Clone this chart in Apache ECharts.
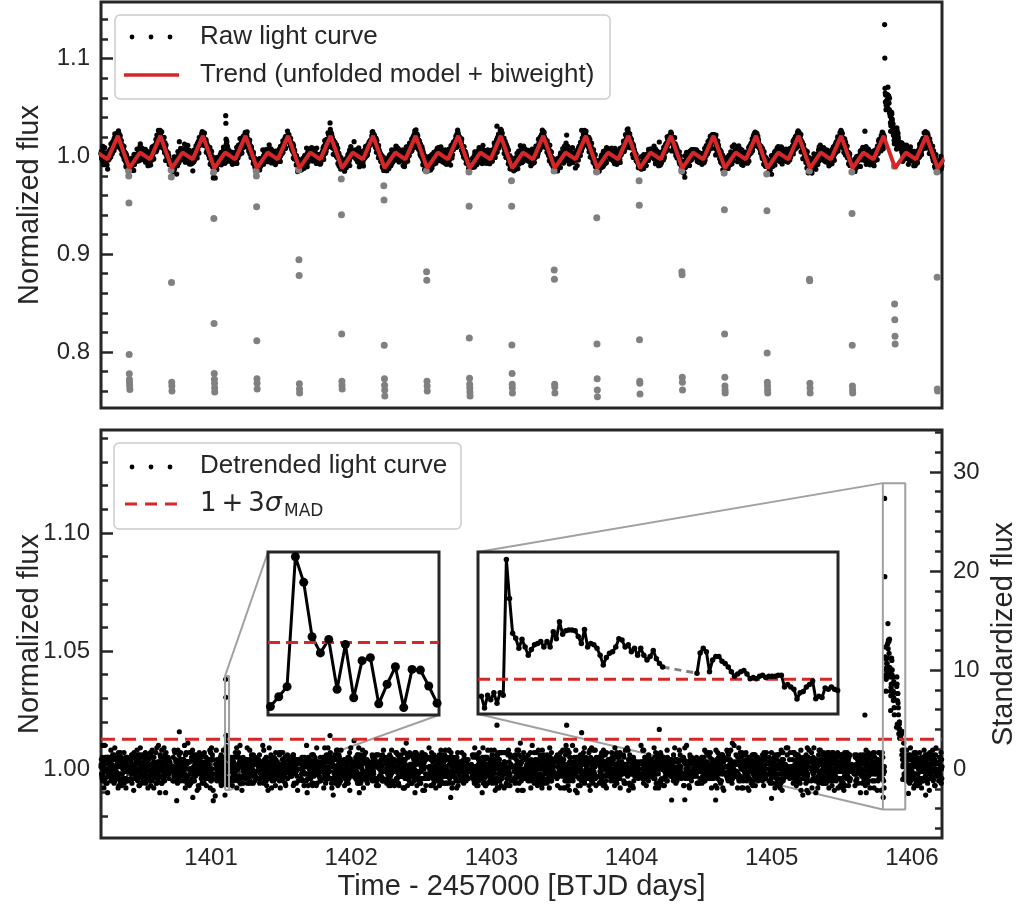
<!DOCTYPE html>
<html>
<head>
<meta charset="utf-8">
<title>Light curve detrending</title>
<script src="https://cdn.jsdelivr.net/npm/echarts@6/dist/echarts.min.js"></script>
<style>
  html, body { margin: 0; padding: 0; background: #fff; }
  #chart { width: 1017px; height: 913px; }
</style>
</head>
<body>
<div id="chart"></div>
<script>
// ---- data ----
// time axis, BTJD days, TESS 2-min cadence
const tStart = 1400.215;
const tEnd = 1406.215;
const cadence = 2 / 1440;

// eclipse ephemeris (grey columns)
const eclEpoch = 1400.417;
const eclPeriod = 0.30354;
const eclHalfWidth = 0.0065;

// one cycle of the unfolded trend model
const trendPhase = [0, 0.25, 0.49, 0.73, 1];
const trendFlux = [0.988, 1.004, 0.997, 1.021, 0.988];

// detrended scatter about 1, in units of 1e-3 (two lists summed)
const residA = [2, -1, 4, 0, -3, 1, -5, 3, -2, 0, 5, -1, -4, 2, 1, -3, 0, 3, -2, 6,
  -1, 1, -4, 2, 0, -2, 3, -6, 1, 4, -1, -3, 2, 0, -5, 3, 1, -2, 4, -1,
  0, 2, -3, 5, -2, 1, -4, 0, 3, -1, -2, 4, 1, -3, 2, 0, -1, 3, -5, 1, 2];
const residB = [-1, 3, 0, -2, 4, -4, 1, 2, -3, 0, 5, -2, 1, -1, 3, -5, 2, 0, -3, 4,
  1, -2, 0, 3, -1, -4, 2, 6, -2, 0, 1, -3, 3, -1, -5, 2, 4, 0, -2, 1,
  -3, 3, 0, -1, 5, -4, 2, -2, 1, 0, -3, 4, -1, 2, -6, 1, 3, -2, 0, -1,
  4, -3, 2, 1, -4, 0, 3];

// masked in-eclipse points (grey), one list per eclipse
const eclGrey = [
  [0.985, 0.980, 0.9523, 0.7974, 0.7776, 0.7718, 0.7684, 0.765, 0.7615],
  [0.986, 0.979, 0.871, 0.769, 0.765, 0.760],
  [0.984, 0.9366, 0.829, 0.778, 0.772, 0.768, 0.763, 0.759],
  [0.985, 0.980, 0.9485, 0.8115, 0.7725, 0.768, 0.762],
  [0.986, 0.8942, 0.8782, 0.7674, 0.762, 0.758],
  [0.977, 0.9403, 0.8183, 0.770, 0.766, 0.762],
  [0.970, 0.9554, 0.8067, 0.7725, 0.766, 0.761, 0.755],
  [0.985, 0.8819, 0.8733, 0.770, 0.765, 0.760],
  [0.984, 0.9489, 0.8142, 0.773, 0.767, 0.763, 0.759, 0.755],
  [0.975, 0.9489, 0.807, 0.778, 0.767, 0.763, 0.758],
  [0.985, 0.8839, 0.8744, 0.767, 0.764, 0.758],
  [0.984, 0.9373, 0.808, 0.7725, 0.761, 0.754],
  [0.975, 0.950, 0.8125, 0.770, 0.768, 0.757],
  [0.985, 0.882, 0.879, 0.774, 0.769, 0.761],
  [0.983, 0.9455, 0.8183, 0.774, 0.765, 0.761, 0.758],
  [0.982, 0.9445, 0.7988, 0.769, 0.765, 0.761, 0.758],
  [0.985, 0.8744, 0.8727, 0.768, 0.763, 0.758],
  [0.984, 0.9417, 0.8067, 0.765, 0.761, 0.758],
  [0.990, 0.849, 0.833, 0.816, 0.808],
  [0.984, 0.8764, 0.762, 0.760]
];
const greyOffset = [-0.0055, -0.004, -0.0025, -0.001, 0, 0.0008, 0.0016, 0.0025, 0.004];

// detrended outliers [time, flux]
const outliers = [
  [1400.755, 0.9866], [1400.774, 1.0158], [1400.870, 0.988], [1401.016, 0.9866],
  [1401.030, 0.9886], [1401.849, 1.0142], [1403.040, 1.0186], [1403.537, 1.0186],
  [1403.644, 1.0154], [1404.198, 1.0168], [1404.286, 0.9869], [1404.380, 0.9870],
  [1404.600, 0.9869], [1404.999, 0.9876], [1405.665, 1.0229], [1405.975, 0.9897]
];

// small event near 1401.1 (left inset), detrended flux per cadence
const event1Start = 1401.1004;
const event1Flux = [0.9936, 0.9965, 0.9995, 1.0380, 1.0304, 1.0143, 1.0095, 1.0135,
  0.9987, 1.0120, 0.9962, 1.0072, 1.0081, 0.9944, 1.0002, 1.0054, 0.9933, 1.0046,
  1.0044, 0.9997, 0.9946];

// flare near 1405.8 (right inset), detrended flux per cadence, null = masked eclipse
const flareStart = 1405.7945;
const flareFlux = [
  0.998, 0.988, 0.999, 0.995, 1.001, 0.992, 1.001, 0.999,
  1.1146, 1.0815, 1.0517, 1.0475, 1.039, 1.0466, 1.040, 1.033,
  1.038, 1.042, 1.043, 1.0447, 1.040, 1.0447, 1.040, 1.053,
  1.047, 1.0616, 1.051, 1.054, 1.0546, 1.0546, 1.054, 1.049,
  1.043, 1.055, 1.040, 1.043, 1.042, 1.039, 1.033, 1.0248,
  1.031, 1.0347, 1.036, 1.040, 1.047, 1.046, 1.040, 1.042,
  1.036, 1.039, 1.033, 1.039, 1.033, 1.029, 1.032, 1.037,
  1.030, 1.026, 1.023,
  null, null, null, null, null, null, null, null, null, null,
  1.0177, 1.035, 1.039, 1.036, 1.019, 1.029, 1.032, 1.032,
  1.028, 1.026, 1.023, 1.019, 1.015, 1.017, 1.019, 1.020,
  1.017, 1.013, 1.014, 1.013, 1.015, 1.016, 1.014, 1.015,
  1.015, 1.015, 1.016, 1.016, 1.006, 1.008, 1.006, 1.004,
  0.9956, 1.001, 1.002, 1.006, 1.008, 1.011, 0.996, 0.998,
  0.997, 1.005, 1.004, 1.006, 1.004, 1.003
];

const sigmaMAD = 0.004195;
const threshold = 1 + 3 * sigmaMAD;

// axes
const topY = [0.7426, 1.158];
const botY = [0.9708, 1.1436];
const xMajor = [1401, 1402, 1403, 1404, 1405, 1406];
const topYMajor = [0.8, 0.9, 1.0, 1.1];
const botYMajor = [1.00, 1.05, 1.10];
const stdMajor = [0, 10, 20, 30];

// zoom windows shown in the insets
const inset1Win = { x: [1401.100, 1401.1285], y: [0.9911, 1.0394] };
const inset2Win = { x: [1405.793, 1405.953], y: [0.9829, 1.1211] };

// ---- layout ----
const INK = '#262626';
const FONT = "'Liberation Sans', Arial, Helvetica, sans-serif";
const RED = '#d62728';
const GREY = '#808080';
const LINK = '#a0a0a0';
const inset1Box = { left: 268, top: 552, width: 171, height: 163 };
const inset2Box = { left: 478, top: 552, width: 360, height: 162 };

// ---- build series data ----
const range = (a, b, s) => {
  const out = [];
  for (let v = a; v <= b + 1e-9; v += s) out.push(+v.toFixed(4));
  return out;
};

function trendAt(t) {
  let ph = ((t - eclEpoch) / eclPeriod) % 1;
  if (ph < 0) ph += 1;
  for (let k = 1; k < trendPhase.length; k++) {
    if (ph <= trendPhase[k]) {
      const f = (ph - trendPhase[k - 1]) / (trendPhase[k] - trendPhase[k - 1]);
      return trendFlux[k - 1] + f * (trendFlux[k] - trendFlux[k - 1]);
    }
  }
  return trendFlux[trendFlux.length - 1];
}

function inEclipse(t) {
  const n = Math.round((t - eclEpoch) / eclPeriod);
  return Math.abs(t - (eclEpoch + n * eclPeriod)) < eclHalfWidth;
}

const detrended = [];
const nCad = Math.round((tEnd - tStart) / cadence);
for (let i = 0; i <= nCad; i++) {
  const t = tStart + i * cadence;
  if (t >= inset1Win.x[0] && t <= inset1Win.x[1]) continue;
  if (t >= inset2Win.x[0] && t <= inset2Win.x[1]) continue;
  if (inEclipse(t)) continue;
  const r = residA[i % residA.length] + residB[i % residB.length];
  detrended.push([t, 1 + r / 1000]);
}
const event1 = event1Flux.map((f, k) => [event1Start + k * cadence, f]);
const flare = flareFlux.map((f, k) => [flareStart + k * cadence, f]);
event1.forEach(p => detrended.push(p));
flare.forEach(p => { if (p[1] != null) detrended.push(p); });
outliers.forEach(p => detrended.push(p));

const raw = detrended.map(([t, f]) => [t, f * trendAt(t)]);

const grey = [];
eclGrey.forEach((list, n) => {
  const te = eclEpoch + n * eclPeriod;
  list.forEach((f, k) => grey.push([te + greyOffset[k], f]));
});

const trendLine = [];
for (let n = -1; n <= 20; n++) {
  for (let k = 0; k < trendPhase.length - 1; k++) {
    trendLine.push([eclEpoch + (n + trendPhase[k]) * eclPeriod, trendFlux[k]]);
  }
}

const flareGap = (() => {
  let a = null, b = null;
  flare.forEach((p, k) => {
    if (p[1] == null) {
      if (a == null) a = flare[k - 1];
    } else if (a != null && b == null) b = p;
  });
  return [a, b];
})();

const boxPath = w => [[w.x[0], w.y[0]], [w.x[0], w.y[1]], [w.x[1], w.y[1]], [w.x[1], w.y[0]], [w.x[0], w.y[0]]];

// ---- axes helpers ----
const tickLine = { color: INK, width: 2.5 };
const nameStyle = { fontSize: 29, color: INK, fontFamily: FONT };
const labelStyle = { fontSize: 24, color: INK, fontFamily: FONT };

function majorAxis(extra) {
  return Object.assign({
    type: 'value',
    axisLine: { show: false },
    splitLine: { show: false },
    nameLocation: 'middle',
    nameMoveOverlap: false,
    nameTextStyle: nameStyle
  }, extra);
}
function minorAxis(extra, ticks) {
  return Object.assign({
    type: 'value',
    axisLine: { show: false },
    splitLine: { show: false },
    axisLabel: { show: false },
    axisTick: { inside: true, length: 7, lineStyle: tickLine, customValues: ticks }
  }, extra);
}
const hiddenAxis = (gi, w) => ({ type: 'value', gridIndex: gi, min: w[0], max: w[1], show: false });

const gridBase = { show: true, borderColor: INK, borderWidth: 3, backgroundColor: '#fff', outerBoundsMode: 'none', containLabel: false };

const stdRange = [(botY[0] - 1) / sigmaMAD, (botY[1] - 1) / sigmaMAD];

const option = {
  animation: false,
  backgroundColor: '#fff',
  grid: [
    Object.assign({ left: 101, right: 75, top: 2, height: 406 }, gridBase),
    Object.assign({ left: 101, right: 75, top: 430, height: 408 }, gridBase),
    Object.assign({}, inset1Box, gridBase, { z: 3 }),
    Object.assign({}, inset2Box, gridBase, { z: 3 })
  ],
  xAxis: [
    { type: 'value', gridIndex: 0, min: tStart, max: tEnd, show: false },
    majorAxis({
      gridIndex: 1, min: tStart, max: tEnd,
      axisTick: { inside: true, length: 12, lineStyle: tickLine, customValues: xMajor },
      axisLabel: Object.assign({ customValues: xMajor, margin: 8, formatter: v => String(Math.round(v)) }, labelStyle),
      name: 'Time - 2457000 [BTJD days]', nameGap: 34
    }),
    minorAxis({ gridIndex: 1, min: tStart, max: tEnd }, range(1400.4, 1406.2, 0.2)),
    hiddenAxis(2, inset1Win.x),
    hiddenAxis(3, inset2Win.x)
  ],
  yAxis: [
    majorAxis({
      gridIndex: 0, position: 'left', min: topY[0], max: topY[1],
      axisTick: { inside: true, length: 12, lineStyle: tickLine, customValues: topYMajor },
      axisLabel: Object.assign({ customValues: topYMajor, margin: 11, formatter: v => v.toFixed(1) }, labelStyle),
      name: 'Normalized flux', nameGap: 57
    }),
    minorAxis({ gridIndex: 0, position: 'left', min: topY[0], max: topY[1] }, range(0.76, 1.14, 0.02)),
    majorAxis({
      gridIndex: 1, position: 'left', min: botY[0], max: botY[1],
      axisTick: { inside: true, length: 12, lineStyle: tickLine, customValues: botYMajor },
      axisLabel: Object.assign({ customValues: botYMajor, margin: 11, formatter: v => v.toFixed(2) }, labelStyle),
      name: 'Normalized flux', nameGap: 57
    }),
    minorAxis({ gridIndex: 1, position: 'left', min: botY[0], max: botY[1] }, range(0.98, 1.14, 0.01)),
    majorAxis({
      gridIndex: 1, position: 'right', min: stdRange[0], max: stdRange[1],
      axisTick: { inside: true, length: 12, lineStyle: tickLine, customValues: stdMajor },
      axisLabel: Object.assign({ customValues: stdMajor, margin: 11, formatter: v => String(Math.round(v)) }, labelStyle),
      name: 'Standardized flux', nameGap: 47
    }),
    minorAxis({ gridIndex: 1, position: 'right', min: stdRange[0], max: stdRange[1] }, range(-6, 34, 2)),
    hiddenAxis(2, inset1Win.y),
    hiddenAxis(3, inset2Win.y)
  ],
  series: [
    {
      name: 'Raw light curve', type: 'scatter', xAxisIndex: 0, yAxisIndex: 0,
      data: raw, symbolSize: 5.2, itemStyle: { color: '#000', opacity: 1 }, progressive: 0, silent: true
    },
    {
      name: 'Masked', type: 'scatter', xAxisIndex: 0, yAxisIndex: 0,
      data: grey, symbolSize: 7, itemStyle: { color: GREY, opacity: 1 }, silent: true
    },
    {
      name: 'Trend (unfolded model + biweight)', type: 'line', xAxisIndex: 0, yAxisIndex: 0,
      data: trendLine, showSymbol: false, lineStyle: { color: RED, width: 4 }, silent: true
    },
    {
      name: 'Detrended light curve', type: 'scatter', xAxisIndex: 1, yAxisIndex: 2,
      data: detrended, symbolSize: 5.2, itemStyle: { color: '#000', opacity: 1 }, progressive: 0, silent: true
    },
    {
      name: '1 + 3σMAD', type: 'line', xAxisIndex: 1, yAxisIndex: 2,
      data: [[tStart, threshold], [tEnd, threshold]], showSymbol: false,
      lineStyle: { color: RED, width: 3, type: [14, 7] }, silent: true
    },
    {
      type: 'line', xAxisIndex: 1, yAxisIndex: 2, data: boxPath(inset1Win), showSymbol: false,
      lineStyle: { color: LINK, width: 2 }, silent: true
    },
    {
      type: 'line', xAxisIndex: 1, yAxisIndex: 2, data: boxPath(inset2Win), showSymbol: false,
      lineStyle: { color: LINK, width: 2 }, silent: true
    },
    {
      type: 'line', xAxisIndex: 3, yAxisIndex: 6, data: event1, z: 5,
      symbol: 'circle', symbolSize: 9, showSymbol: true,
      itemStyle: { color: '#000', opacity: 1 }, lineStyle: { color: '#000', width: 3 }, silent: true
    },
    {
      type: 'line', xAxisIndex: 3, yAxisIndex: 6, z: 5,
      data: [[inset1Win.x[0], threshold], [inset1Win.x[1], threshold]], showSymbol: false,
      lineStyle: { color: RED, width: 3, type: [12, 6] }, silent: true
    },
    {
      type: 'line', xAxisIndex: 4, yAxisIndex: 7, z: 5,
      data: [flareGap[0], flareGap[1]], showSymbol: false,
      lineStyle: { color: GREY, width: 3, type: [7, 5] }, silent: true
    },
    {
      type: 'line', xAxisIndex: 4, yAxisIndex: 7, data: flare, connectNulls: false, z: 5,
      symbol: 'circle', symbolSize: 5.5, showSymbol: true,
      itemStyle: { color: '#000', opacity: 1 }, lineStyle: { color: '#000', width: 3 }, silent: true
    },
    {
      type: 'line', xAxisIndex: 4, yAxisIndex: 7, z: 5,
      data: [[inset2Win.x[0], threshold], [inset2Win.x[1], threshold]], showSymbol: false,
      lineStyle: { color: RED, width: 3, type: [12, 6] }, silent: true
    }
  ]
};

// legends drawn as graphics so the markers match the figure
const legendFont = '26px ' + FONT;
const dot = (x, y) => ({ type: 'circle', shape: { cx: x, cy: y, r: 2.4 }, style: { fill: '#000' }, z: 101 });
const legendGraphics = [
  { type: 'rect', shape: { x: 115, y: 15, width: 495, height: 84, r: 5 },
    style: { fill: 'rgba(255,255,255,0.85)', stroke: '#cccccc', lineWidth: 1.5 }, z: 100 },
  dot(132, 37), dot(151, 37), dot(170, 37),
  { type: 'text', x: 200, y: 37, style: { text: 'Raw light curve', font: legendFont, fill: INK, verticalAlign: 'middle' }, z: 101 },
  { type: 'line', shape: { x1: 124, y1: 75, x2: 179, y2: 75 }, style: { stroke: RED, lineWidth: 3.5 }, z: 101 },
  { type: 'text', x: 200, y: 75, style: { text: 'Trend (unfolded model + biweight)', font: legendFont, fill: INK, verticalAlign: 'middle' }, z: 101 },

  { type: 'rect', shape: { x: 114, y: 443, width: 347, height: 86, r: 5 },
    style: { fill: 'rgba(255,255,255,0.85)', stroke: '#cccccc', lineWidth: 1.5 }, z: 100 },
  dot(132, 467), dot(151, 467), dot(170, 467),
  { type: 'text', x: 200, y: 466, style: { text: 'Detrended light curve', font: legendFont, fill: INK, verticalAlign: 'middle' }, z: 101 },
  { type: 'line', shape: { x1: 125, y1: 504, x2: 178, y2: 504 }, style: { stroke: RED, lineWidth: 3, lineDash: [12, 8] }, z: 101 },
  { type: 'text', x: 200, y: 504, z: 101, style: {
      text: '{n|1}{sp|}{n|+}{sp|}{n|3}{s|σ}', verticalAlign: 'middle', fill: INK,
      rich: {
        n: { fontFamily: 'DejaVu Sans', fontSize: 26, fill: INK },
        sp: { width: 5 },
        s: { fontFamily: 'DejaVu Sans', fontStyle: 'italic', fontSize: 27, fill: INK }
      } } },
  { type: 'text', x: 284, y: 512, z: 101, style: { text: 'MAD', font: '17px DejaVu Sans', fill: INK, verticalAlign: 'middle' } }
];
option.graphic = legendGraphics;

const chart = echarts.init(document.getElementById('chart'), null, { renderer: 'canvas' });
chart.setOption(option);

// zoom connectors from the marked boxes to the inset corners
const px = p => chart.convertToPixel({ xAxisIndex: 1, yAxisIndex: 2 }, p);
const link = (a, b) => ({ type: 'line', shape: { x1: a[0], y1: a[1], x2: b[0], y2: b[1] }, style: { stroke: LINK, lineWidth: 2 }, z: 2 });
const links = [
  link(px([inset1Win.x[0], inset1Win.y[1]]), [inset1Box.left, inset1Box.top]),
  link(px([inset1Win.x[1], inset1Win.y[0]]), [inset1Box.left + inset1Box.width, inset1Box.top + inset1Box.height]),
  link(px([inset2Win.x[0], inset2Win.y[1]]), [inset2Box.left, inset2Box.top]),
  link(px([inset2Win.x[0], inset2Win.y[0]]), [inset2Box.left, inset2Box.top + inset2Box.height])
];
chart.setOption({ graphic: legendGraphics.concat(links) });
</script>
</body>
</html>
